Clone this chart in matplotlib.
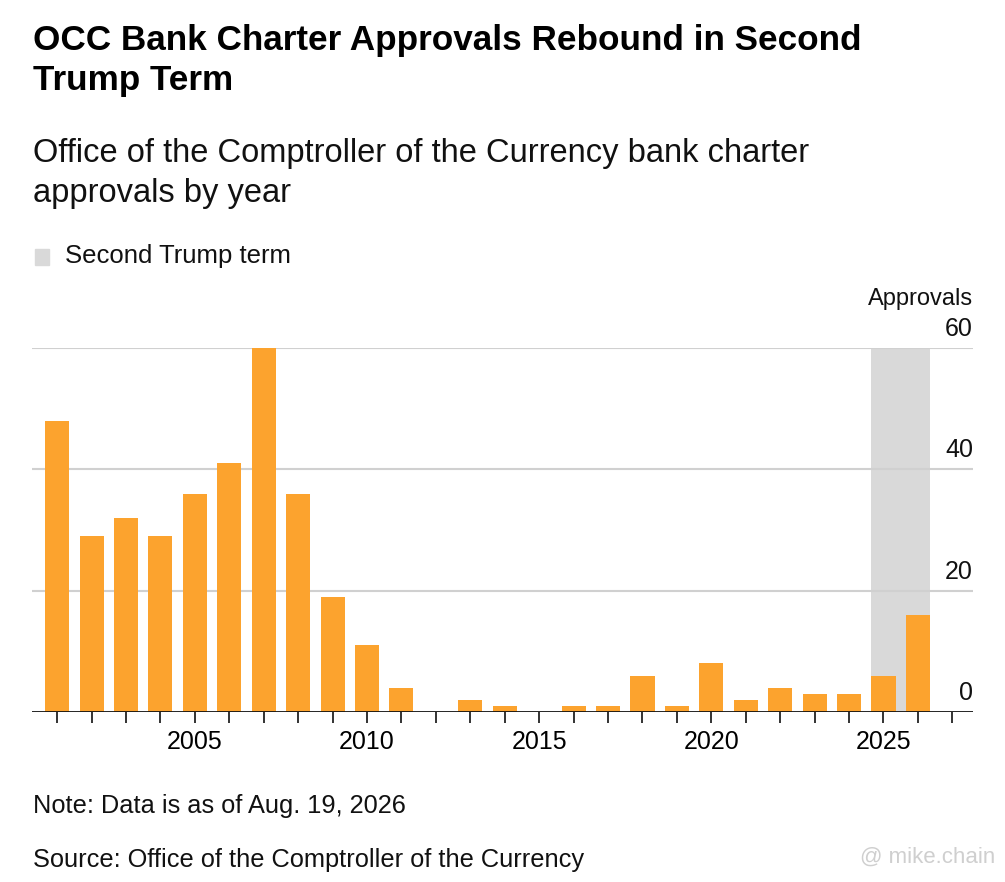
import matplotlib.pyplot as plt
from matplotlib.patches import Rectangle

years = list(range(2001, 2027))
approvals = [48, 29, 32, 29, 36, 41, 60, 36, 19, 11, 4, 0, 2, 1, 0,
             1, 1, 6, 1, 8, 2, 4, 3, 3, 6, 16]
term_years = [2025, 2026]
y_ticks = [0, 20, 40, 60]
x_labels = [2005, 2010, 2015, 2020, 2025]

plt.rcParams['font.family'] = ['Liberation Sans', 'DejaVu Sans']

W, H = 1005, 882
fig = plt.figure(figsize=(W / 100, H / 100), dpi=100)


def fy(px):
    # pixel row from top -> figure fraction
    return 1 - px / H


ax = fig.add_axes([32 / W, fy(712), (973 - 32) / W, fy(348) - fy(712)])

bar_w = 0.7
ax.axvspan(term_years[0] - bar_w / 2, term_years[-1] + bar_w / 2,
           color='#d9d9d9', lw=0, zorder=0)
ax.bar(years, approvals, width=bar_w, color='#fca32e', zorder=2)

ax.set_xlim(2000.27, 2027.6)
ax.set_ylim(0, 60)

for v in y_ticks[1:]:
    ax.axhline(v, color='#d0d0d0', lw=1.5, zorder=1)
ax.axhline(0, color='#111111', lw=2, zorder=3)

for s in ax.spines.values():
    s.set_visible(False)

ax.set_yticks([])
ax.set_xticks(range(2001, 2028), minor=False)
ax.set_xticklabels([str(y) if y in x_labels else '' for y in range(2001, 2028)],
                   fontsize=18)
ax.tick_params(axis='x', length=8, width=1.2, color='#111111', pad=5)

for v in y_ticks:
    ax.annotate(str(v), xy=(1, v), xycoords=('axes fraction', 'data'),
                xytext=(0, 5), textcoords='offset points',
                ha='right', va='bottom', fontsize=18, color='#111111')

fig.text(973 / W, fy(299), 'Approvals', ha='right', va='center', fontsize=17,
         color='#111111')

fig.text(33 / W, fy(50), 'OCC Bank Charter Approvals Rebound in Second',
         fontsize=25.3, fontweight='bold', ha='left', va='baseline')
fig.text(33 / W, fy(90), 'Trump Term',
         fontsize=25.3, fontweight='bold', ha='left', va='baseline')
fig.text(33 / W, fy(162), 'Office of the Comptroller of the Currency bank charter',
         fontsize=23.5, ha='left', va='baseline', color='#111111')
fig.text(33 / W, fy(202), 'approvals by year',
         fontsize=23.5, ha='left', va='baseline', color='#111111')

fig.patches.append(Rectangle((35 / W, fy(265)), 14 / W, 16 / H,
                             transform=fig.transFigure, color='#d9d9d9'))
fig.text(65 / W, fy(256), 'Second Trump term', fontsize=18.5,
         ha='left', va='center', color='#111111')

fig.text(33 / W, fy(806), 'Note: Data is as of Aug. 19, 2026', fontsize=18.3,
         ha='left', va='center', color='#111111')
fig.text(33 / W, fy(860), 'Source: Office of the Comptroller of the Currency',
         fontsize=18.3, ha='left', va='center', color='#111111')
fig.text(995 / W, fy(857), '@ mike.chain', fontsize=16, ha='right',
         va='center', color='#cfcfcf')

fig.savefig('out.png', dpi=100, facecolor='white')
